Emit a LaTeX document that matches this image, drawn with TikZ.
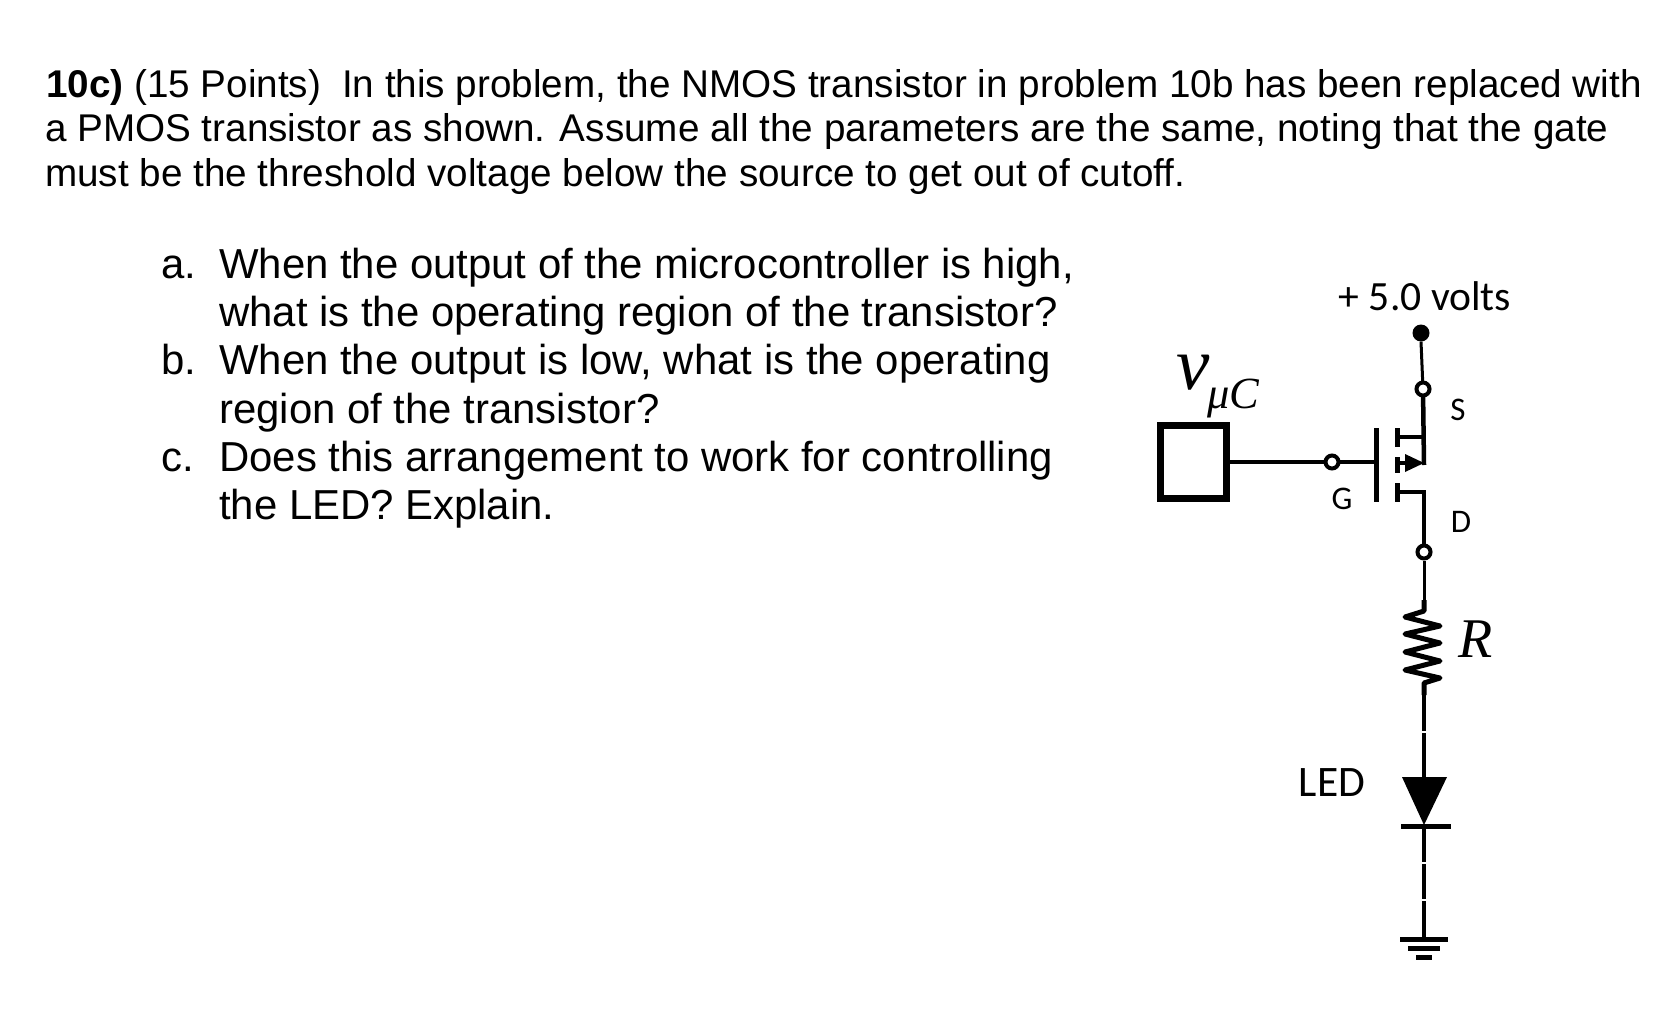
\documentclass[tikz,border=0pt]{standalone}
\usepackage{fontspec}
\setmainfont{Liberation Sans}
\newfontfamily\labelfont{Carlito}
\newfontfamily\mathfont{Liberation Serif}
\tikzset{
 para/.style={anchor=base west,inner sep=0pt,font=\fontsize{38.65}{44}\selectfont},
 item/.style={anchor=base west,inner sep=0pt,font=\fontsize{41.9}{48}\selectfont},
 lab/.style={anchor=base,inner sep=0pt,font=\labelfont\fontsize{33}{36}\selectfont},
 biglab/.style={anchor=base,inner sep=0pt,font=\labelfont\fontsize{41.6}{44}\selectfont},
 wire/.style={line width=4.5pt},
 thin wire/.style={line width=3pt},
 fet/.style={line width=5pt},
 term/.style={circle,draw,fill=white,line width=4pt,minimum size=13pt,inner sep=0pt},
}
\begin{document}
\begin{tikzpicture}[x=1pt,y=-1pt]
\useasboundingbox (0,0) rectangle (1666,1020);
\fill[white] (0,0) rectangle (1666,1020);
% problem text
\node[para] (l1) at (46,97) {\textbf{10c)} (15 Points)\hspace{21pt}In this problem, the NMOS transistor in problem 10b has been replaced with};
\node[para] (l2) at (45,141) {a PMOS transistor as shown. Assume all the parameters are the same, noting that the gate};
\node[para] (l3) at (45,186) {must be the threshold voltage below the source to get out of cutoff.};
\node[item] (ma) at (161,278) {a.};
\node[item] (a1) at (219,278) {When the output of the microcontroller is high,};
\node[item] (a2) at (219,326) {what is the operating region of the transistor?};
\node[item] (mb) at (161,374) {b.};
\node[item] (b1) at (219,374) {When the output is low, what is the operating};
\node[item] (b2) at (219,423) {region of the transistor?};
\node[item] (mc) at (161,471) {c.};
\node[item] (c1) at (219,471) {Does this arrangement to work for controlling};
\node[item] (c2) at (219,519) {the LED? Explain.};
% labels
\node[biglab] (volts) at (1425,310) {+ 5.0 volts};
\node[lab] (ls) at (1458,420) {S};
\node[lab] (lg) at (1342,509) {G};
\node[lab] (ld) at (1461,532) {D};
\node[anchor=base,inner sep=0pt,font=\labelfont\fontsize{43.5}{46}\selectfont] (led) at (1332,796) {LED};
\node[anchor=base,inner sep=0pt,font=\mathfont\itshape\fontsize{56}{60}\selectfont] (lr) at (1476,657) {R};
\node[anchor=base,inner sep=0pt,font=\mathfont\itshape\fontsize{75}{80}\selectfont] (lv) at (1193,389) {v};
\node[anchor=base,inner sep=0pt,font=\mathfont\itshape\fontsize{44.5}{48}\selectfont] (lmu) at (1233,408) {μC};
% microcontroller output box
\node[draw,line width=7pt,minimum width=66pt,minimum height=73pt,inner sep=0pt] (box) at (1193.5,462) {};
% terminals and junctions
\coordinate (gatebar) at (1376,462);
\coordinate (sjoin) at (1424,437);
\coordinate (sbody) at (1424,465);
\coordinate (dcorner) at (1424,492);
\node[circle,fill=black,minimum size=17pt,inner sep=0pt] (vdd) at (1421,333) {};
% transistor
\draw[fet] (1376,428) -- (1376,502);
\draw[fet] (1397,428) -- (1397,447);
\draw[fet] (1397,457) -- (1397,473);
\draw[fet] (1397,483) -- (1397,502);
\draw[wire] (1423,389) -- (sbody);
\draw[wire] (1397,437) -- (sjoin);
\draw[wire,line join=miter] (1397,492) -- (dcorner) -- (1424,552);
\draw[wire] (1397,463) -- (1406,463);
\fill (1405,454) -- (1424,463) -- (1405,472) -- cycle;
% wires and terminals
\draw[wire] (box.east) -- (gatebar);
\draw[thin wire] (vdd.south) -- (1423,389);
\node[term] (tg) at (1332,462) {};
\node[term] (ts) at (1423,389) {};
\node[term] (td) at (1424,552) {};
% resistor
\coordinate (rtop) at (1424,600);
\coordinate (rbot) at (1424,695);
\draw[thin wire] (td.south) -- (rtop);
\draw[line width=5pt,line join=round] (rtop) -- (1424,611) -- (1405,617) -- (1440,626) -- (1405,634) -- (1440,643) -- (1405,652) -- (1440,661) -- (1405,670) -- (1440,678) -- (1424,683) -- (rbot);
% LED
\coordinate (ledtop) at (1424,777);
\coordinate (ledtip) at (1424,825);
\coordinate (gnd) at (1424,939);
\draw[wire] (rbot) -- (1424,731);
\draw[wire] (1424,733) -- (ledtop);
\fill (1402,777) -- (1447,777) -- (1424,825) -- cycle;
\draw[fet] (1401,826) -- (1451,826);
\draw[wire] (ledtip) -- (1424,862);
\draw[wire] (1424,864) -- (1424,899);
\draw[wire] (1424,901) -- (gnd);
% ground
\draw[fet] (1400,939) -- (1448,939);
\draw[fet] (1408,948) -- (1440,948);
\draw[fet] (1416,957) -- (1432,957);
\end{tikzpicture}
\end{document}
